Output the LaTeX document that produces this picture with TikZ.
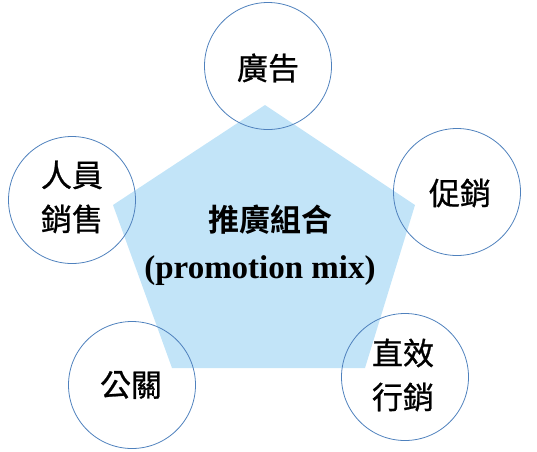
\documentclass[tikz,border=0pt]{standalone}
\usepackage{fontspec}
\newfontfamily\cjk[FakeBold=0.8]{Noto Sans CJK TC}
\newfontfamily\cjkb{Noto Sans CJK TC Bold}
\setmainfont{Liberation Serif}
\definecolor{penta}{RGB}{194,228,248}
\definecolor{ring}{RGB}{79,129,189}
\begin{document}
\begin{tikzpicture}[x=1pt,y=-1pt,
  item/.style={circle,draw=ring,line width=0.8pt,minimum size=127pt,inner sep=0pt},
  label/.style={font=\cjk\fontsize{31}{44}\selectfont,align=center,text=black}]
\useasboundingbox (0,0) rectangle (537,451);
\fill[penta] (265,105) -- (415,205) -- (365,368) -- (172,368) -- (113,205) -- cycle;
\node[item] (ad) at (268,66) {};
\node[item] (ps) at (72,200) {};
\node[item] (sp) at (457,192) {};
\node[item] (pr) at (132,385) {};
\node[item] (dm) at (405,377) {};
\node[label] (tad) at (268,68) {廣告};
\node[label] (tps) at (72,197) {人員\\銷售};
\node[label] (tsp) at (460,193) {促銷};
\node[label] (tpr) at (131,385) {公關};
\node[label] (tdm) at (403,375) {直效\\行銷};
\node[font=\cjkb\fontsize{31}{31}\selectfont] (mixa) at (270,220) {推廣組合};
\node[font=\bfseries\fontsize{33}{33}\selectfont] (mixb) at (260,271) {(promotion mix)};
\end{tikzpicture}
\end{document}
